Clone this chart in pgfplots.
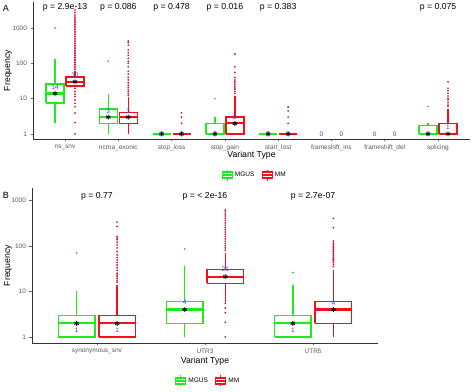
\documentclass[border=0pt]{standalone}
\usepackage{fontspec}
\setmainfont{Liberation Sans}
\usepackage{pgfplots}
\pgfplotsset{compat=1.18}

\definecolor{colG}{RGB}{30,235,30}
\definecolor{colR}{RGB}{245,15,25}
\definecolor{dotG}{RGB}{40,200,40}
\definecolor{dotR}{RGB}{205,20,50}
\definecolor{lab}{RGB}{60,60,215}

\pgfplotsset{
  boxiconA/.style={legend image code/.code={
      \draw[draw=colG,line width=1.1pt] (0pt,-3pt) rectangle (10pt,3pt);
      \draw[draw=colG,line width=1.1pt] (5pt,3pt)--(5pt,5.5pt) (5pt,-3pt)--(5pt,-5.5pt);
      \draw[draw=colG,line width=1.5pt] (0pt,0pt)--(10pt,0pt);}},
  boxiconB/.style={legend image code/.code={
      \draw[draw=colR,line width=1.1pt] (0pt,-3pt) rectangle (10pt,3pt);
      \draw[draw=colR,line width=1.1pt] (5pt,3pt)--(5pt,5.5pt) (5pt,-3pt)--(5pt,-5.5pt);
      \draw[draw=colR,line width=1.5pt] (0pt,0pt)--(10pt,0pt);}},
  lbl/.style={draw=none, mark=none, nodes near coords, point meta=explicit symbolic,
    every node near coord/.append style={anchor=center, font=\fontsize{6.5}{7}\selectfont, text=lab}},
  meanstar/.style={only marks, mark=asterisk, mark size=2.5pt, color=black, line width=0.9pt},
  commonax/.style={
    scale only axis,
    axis x line*=bottom, axis y line*=left,
    axis line style={black!80, line width=0.6pt},
    tick align=outside, major tick length=2.5pt,
    tick style={black!60, line width=0.5pt},
    tick label style={font=\fontsize{6.5}{7}\selectfont, text=black!65},
    label style={font=\fontsize{8.7}{10}\selectfont},
    clip=false,
    legend style={draw=none, fill=none, font=\fontsize{6.5}{7}\selectfont, legend columns=-1,
      /tikz/every even column/.append style={column sep=5pt}},
  },
}

% box: #1 colour, #2 position, #3 lower whisker, #4 Q1, #5 median, #6 Q3, #7 upper whisker
\newcommand{\bx}[7]{%
  \pgfmathsetmacro\xl{#2-0.16875}\pgfmathsetmacro\xr{#2+0.16875}%
  \addplot[color=#1, line width=1.35pt, forget plot] coordinates {(#2,#3)(#2,#4)};%
  \addplot[color=#1, line width=1.35pt, forget plot] coordinates {(#2,#6)(#2,#7)};%
  \addplot[color=#1, line width=1.35pt, forget plot, line join=miter] coordinates {(\xl,#4)(\xr,#4)(\xr,#6)(\xl,#6)(\xl,#4)};%
  \addplot[color=#1, line width=2.3pt, forget plot] coordinates {(\xl,#5)(\xr,#5)};%
}
% outliers: #1 colour, #2 position, #3 values
\newcommand{\ol}[3]{%
  \addplot[only marks, mark=*, mark size=0.65pt, color=#1, mark options={draw=none, fill=#1}, forget plot]
    table[x expr=#2, y index=0, header=false, row sep=\\] {#3};%
}

\begin{document}
\begin{tikzpicture}[x=1pt,y=1pt]
\useasboundingbox (0,0) rectangle (474,391);
\node[font=\fontsize{9}{10}\selectfont] at (6,383) {A};
\node[font=\fontsize{9}{10}\selectfont] at (6,196) {B};

% ---------------- Panel A ----------------
\begin{axis}[commonax, ymode=log,
  ytick={1,10,100,1000}, yticklabels={1,10,100,1000}, yminorticks=false,
  at={(33pt,252pt)}, anchor=south west,
  width=437pt, height=137pt,
  xmin=0.4, xmax=8.6, ymin=0.72, ymax=5480,
  xtick={1,2,3,4,5,6,7,8},
  xticklabels={ns\_snv,ncrna\_exonic,stop\_loss,stop\_gain,start\_lost,frameshift\_ins,frameshift\_del,splicing},
  xlabel={Variant Type}, ylabel={Frequency},
  xlabel style={at={(axis description cs:0.5,-0.117)}, anchor=center},
  ylabel style={at={(axis description cs:-0.057,0.5)}, anchor=center},
  legend style={at={(axis description cs:0.507,-0.263)}, anchor=center},
]
\addlegendimage{boxiconA}\addlegendentry{MGUS}
\addlegendimage{boxiconB}\addlegendentry{MM}

% ns_snv
\bx{colG}{0.8125}{2}{7.5}{14}{26}{133}
\ol{dotG}{0.8125}{1000\\}
\bx{colR}{1.1875}{21}{23}{30}{41}{60}
\ol{dotR}{1.1875}{68\\75\\84\\94\\105\\118\\132\\148\\166\\186\\208\\233\\261\\292\\327\\366\\410\\460\\515\\577\\646\\724\\811\\908\\1017\\1139\\1276\\1429\\1600\\1800\\2050\\2350\\2750\\3250\\19.7\\15.8\\13.3\\11.4\\9.2\\7.4\\5.9\\3.9\\2.1\\1\\}
% ncrna_exonic
\bx{colG}{1.8125}{1}{2}{3}{5.1}{13.5}
\ol{dotG}{1.8125}{115\\}
\bx{colR}{2.1875}{1}{2}{3}{4}{11}
\ol{dotR}{2.1875}{430\\390\\330\\240\\200\\170\\140\\115\\100\\80\\60\\50\\40\\34\\28\\24\\21\\18\\16\\14\\12.5\\}
% stop_loss
\bx{colG}{2.8125}{1}{1}{1}{1}{1}
\bx{colR}{3.1875}{1}{1}{1}{1}{1}
\ol{dotR}{3.1875}{2\\3\\4\\}
% stop_gain
\bx{colG}{3.8125}{1}{1}{1}{2}{3}
\ol{dotG}{3.8125}{10\\}
\bx{colR}{4.1875}{1}{1}{2}{3}{12}
\ol{dotR}{4.1875}{184\\80\\55\\40\\34\\31\\28\\25\\22\\20\\18\\16\\14\\}
% start_lost
\bx{colG}{4.8125}{1}{1}{1}{1}{1}
\bx{colR}{5.1875}{1}{1}{1}{1}{1}
\ol{dotR}{5.1875}{2\\3\\4.5\\5.8\\}
% splicing
\bx{colG}{7.8125}{1}{1}{1}{1.75}{2}
\ol{dotG}{7.8125}{6\\}
\bx{colR}{8.1875}{1}{1}{1}{2}{5}
\ol{dotR}{8.1875}{30\\19.7\\16.8\\14.2\\11.9\\10.3\\9.2\\7.7\\6.6\\5.9\\}

% means
\addplot[meanstar] coordinates {(0.8125,14)(1.1875,30)(1.8125,3)(2.1875,3)(2.8125,1)(3.1875,1)(3.8125,1)(4.1875,2)(4.8125,1)(5.1875,1)(7.8125,1)(8.1875,1)};
% labels
\addplot[lbl] table[meta=t, row sep=\\] {
x y t\\
0.8125 21 14\\
1.1875 45 30\\
1.8125 4.5 3\\
2.1875 4.5 3\\
2.8125 1 0\\
3.1875 1 0\\
3.8125 1 0\\
4.1875 3 2\\
4.8125 1 0\\
5.1875 1 0\\
5.8125 1 0\\
6.1875 1 0\\
6.8125 1 0\\
7.1875 1 0\\
7.8125 1 0\\
8.1875 1.5 1\\
};

\node[font=\fontsize{8.7}{10}\selectfont] at (axis cs:1,3970) {p = 2.9e-13};
\node[font=\fontsize{8.7}{10}\selectfont] at (axis cs:2,3970) {p = 0.086};
\node[font=\fontsize{8.7}{10}\selectfont] at (axis cs:3,3970) {p = 0.478};
\node[font=\fontsize{8.7}{10}\selectfont] at (axis cs:4,3970) {p = 0.016};
\node[font=\fontsize{8.7}{10}\selectfont] at (axis cs:5,3970) {p = 0.383};
\node[font=\fontsize{8.7}{10}\selectfont] at (axis cs:8,3970) {p = 0.075};
\end{axis}

% ---------------- Panel B ----------------
\begin{axis}[commonax, ymode=log,
  ytick={1,10,100,1000}, yticklabels={1,10,100,1000}, yminorticks=false,
  at={(32pt,48pt)}, anchor=south west,
  width=346pt, height=155pt,
  xmin=0.4, xmax=3.6, ymin=0.74, ymax=1850,
  xtick={1,2,3},
  xticklabels={synonymous\_snv,UTR3,UTR5},
  xlabel={Variant Type}, ylabel={Frequency},
  xlabel style={at={(axis description cs:0.5,-0.116)}, anchor=center},
  ylabel style={at={(axis description cs:-0.069,0.5)}, anchor=center},
  legend style={at={(axis description cs:0.509,-0.245)}, anchor=center},
]
\addlegendimage{boxiconA}\addlegendentry{MGUS}
\addlegendimage{boxiconB}\addlegendentry{MM}

% synonymous_snv
\bx{colG}{0.8125}{1}{1}{2}{3}{10}
\ol{dotG}{0.8125}{70\\}
\bx{colR}{1.1875}{1}{1}{2}{3}{14}
\ol{dotR}{1.1875}{330\\265\\160\\148\\136\\120\\105\\90\\75\\63\\55\\49\\43\\38\\33\\29\\25\\23\\21\\19\\17\\16\\}
% UTR3
\bx{colG}{1.8125}{1}{2}{4}{6}{36}
\ol{dotG}{1.8125}{85\\}
\bx{colR}{2.1875}{6}{15}{21}{30}{70}
\ol{dotR}{2.1875}{80\\90\\100\\112\\126\\141\\158\\178\\200\\224\\251\\282\\316\\355\\400\\450\\500\\560\\610\\5.5\\4.3\\3.4\\2.1\\1\\}
% UTR5
\bx{colG}{2.8125}{1}{1}{2}{3}{14}
\ol{dotG}{2.8125}{26\\}
\bx{colR}{3.1875}{1}{2}{4}{6}{30}
\ol{dotR}{3.1875}{400\\250\\127\\115\\107\\98\\91\\85\\81\\74\\68\\63\\60\\56\\53\\50\\47\\43\\39\\35\\}

\addplot[meanstar] coordinates {(0.8125,2)(1.1875,2)(1.8125,4)(2.1875,21)(2.8125,2)(3.1875,4)};
\addplot[lbl] table[meta=t, row sep=\\] {
x y t\\
0.8125 1.4 1\\
1.1875 1.4 1\\
1.8125 5.8 4\\
2.1875 31 21\\
2.8125 1.4 1\\
3.1875 5.6 4\\
};

\node[font=\fontsize{8.7}{10}\selectfont] at (axis cs:1,1230) {p = 0.77};
\node[font=\fontsize{8.7}{10}\selectfont] at (axis cs:2,1230) {p = < 2e-16};
\node[font=\fontsize{8.7}{10}\selectfont] at (axis cs:3,1230) {p = 2.7e-07};
\end{axis}
\end{tikzpicture}
\end{document}
